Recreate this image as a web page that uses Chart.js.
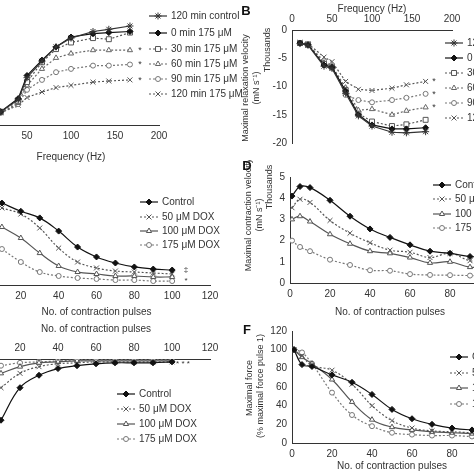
<!DOCTYPE html>
<html><head><meta charset="utf-8">
<script src="https://cdn.jsdelivr.net/npm/chart.js@4"></script>
<style>
html,body{margin:0;padding:0;background:#fff;width:474px;height:474px;overflow:hidden;position:relative}
canvas{position:absolute}
</style></head><body>
<canvas id="cA" style="left:-40px;top:0px;width:290px;height:165px" width="290" height="165"></canvas>
<canvas id="cB" style="left:237px;top:0px;width:300px;height:160px" width="300" height="160"></canvas>
<canvas id="cC" style="left:-40px;top:160px;width:290px;height:160px" width="290" height="160"></canvas>
<canvas id="cD" style="left:237px;top:160px;width:280px;height:160px" width="280" height="160"></canvas>
<canvas id="cE" style="left:-40px;top:320px;width:290px;height:154px" width="290" height="154"></canvas>
<canvas id="cF" style="left:237px;top:320px;width:280px;height:154px" width="280" height="154"></canvas>
<script>
// ---------- data ----------
const freqHz = [10,20,40,50,67,83,100,125,143,167];
const seriesTimeLabels = ['120 min control','0 min 175 \u03bcM','30 min 175 \u03bcM','60 min 175 \u03bcM','90 min 175 \u03bcM','120 min 175 \u03bcM'];
// Panel A: relative force (arbitrary units, axis not visible)
const aCtrl120 = [null,12,23,43,58,71,79,85,87,90];
const a0min    = [null,12,24,45,59,71,80,83,84,85];
const a30min   = [null,12,22,39,57,69,75,79,78,84];
const a60min   = [null,11,20,36,51,61,65,68,68,68];
const a90min   = [null,11,19,32,41,48,51,54,54,55];
const a120min  = [null,11,18,25,30,34,36,39,40,41];
// Panel B: maximal relaxation velocity (thousands mN/s)
const bCtrl120 = [-2.4,-2.7,-6.4,-6.8,-11.2,-15.2,-17.0,-18.1,-18.2,-18.0];
const b0min    = [-2.3,-2.6,-6.2,-6.6,-10.8,-15.0,-16.8,-17.5,-17.5,-17.3];
const b30min   = [-2.3,-2.6,-6.0,-6.6,-10.6,-14.8,-16.2,-17.0,-16.7,-15.9];
const b60min   = [-2.3,-2.6,-5.8,-6.4,-10.2,-14.2,-14.0,-15.0,-14.3,-13.7];
const b90min   = [-2.4,-2.6,-5.5,-6.2,-11.5,-12.4,-12.8,-12.4,-12.0,-11.3];
const b120min  = [-2.2,-2.4,-4.8,-5.6,-9.1,-10.5,-10.7,-10.3,-9.7,-9.1];
const doxLabels = ['Control','50 \u03bcM DOX','100 \u03bcM DOX','175 \u03bcM DOX'];
// Panel C
const pulsesC = [10,20,30,40,50,60,70,80,90,100];
const cCtrl = [74.5,67,61,49,34.5,25.5,20,16.4,14.5,13.6];
const c50   = [70,64.5,51.8,33.6,20.9,15.5,12.7,11.8,10.9,10];
const c100  = [52.7,42.7,29,17.3,11.8,10,8.2,8.2,7.3,7.3];
const c175  = [32.7,20.9,11.8,8.2,6.4,5.5,4.5,4.5,3.6,3.6];
// Panel D: maximal contraction velocity (thousands mN/s)
const pulsesD = [1,5,10,20,30,40,50,60,70,80,90,100];
const dCtrl = [4.1,4.55,4.5,3.9,3.15,2.55,2.15,1.8,1.5,1.4,1.25,1.2];
const d50   = [3.55,3.95,3.8,2.95,2.35,1.9,1.55,1.45,1.2,1.4,1.05,1.0];
const d100  = [3.0,3.15,2.9,2.3,1.85,1.5,1.4,1.2,0.95,1.0,0.75,0.8];
const d175  = [2.0,1.7,1.5,1.1,0.85,0.6,0.58,0.42,0.38,0.37,0.35,0.33];
// Panel E
const pulsesE = [10,20,30,40,50,60,70,80,90,100];
const eCtrl = [-64,-30,-17,-10,-7,-5,-4,-4,-4,-3];
const e50   = [-30,-15,-8,-5,-4,-3,-3,-3,-3,-3];
const e100  = [-15,-8,-4,-3,-2,-2,-2,-2,-2,-2];
const e175  = [-7,-4,-3,-2,-1,-1,-1,-1,-1,-1];
// Panel F: maximal force (% of pulse 1)
const pulsesF = [1,5,10,20,30,40,50,60,70,80,90,100];
const fCtrl = [100,84,82,73,65,52,36,26,20,16,14,13];
const f50   = [100,93,83,78,63,40,24,16,13,12,11,10];
const f100  = [100,92,85,68,44,25,17,14,12,11,10,9];
const f175  = [100,97,85,54,30,18,11,9,8,8,7,7];

// ---------- helpers ----------
const FF = "'Liberation Sans', Arial, sans-serif";
Chart.defaults.font.family = FF;
Chart.defaults.font.size = 10;
Chart.defaults.color = '#333';
Chart.defaults.animation = false;

const styles = {
  solidStar:  {borderColor:'#333', borderDash:[], pointStyle:'star', pointBackgroundColor:'#333', pointRadius:3.5},
  solidDiam:  {borderColor:'#111', borderDash:[], pointStyle:'rectRot', pointBackgroundColor:'#111', pointRadius:3},
  dotSquare:  {borderColor:'#555', borderDash:[2,2], pointStyle:'rect', pointBackgroundColor:'#fff', pointRadius:3.5},
  dotTri:     {borderColor:'#666', borderDash:[2,2], pointStyle:'triangle', pointBackgroundColor:'#fff', pointRadius:3},
  dotCirc:    {borderColor:'#777', borderDash:[2,2], pointStyle:'circle', pointBackgroundColor:'#fff', pointRadius:2.5},
  dotCross:   {borderColor:'#555', borderDash:[2,2], pointStyle:'crossRot', pointBackgroundColor:'#555', pointRadius:3.5},
  solidTri:   {borderColor:'#555', borderDash:[], pointStyle:'triangle', pointBackgroundColor:'#fff', pointRadius:3},
};
function ds(label, xs, ys, st, tension){
  return Object.assign({label, data: xs.map((x,i)=>({x, y: ys[i]})), borderWidth:1.2,
    pointBorderColor: st.borderColor, pointBorderWidth:1, tension: tension||0, spanGaps:true}, st);
}
const extras = {
  id:'extras',
  afterDraw(chart, args, opts){
    const ctx = chart.ctx;
    ctx.save();
    (opts.legend||[]).forEach((pos, i)=>{
      const d = chart.data.datasets[i];
      ctx.strokeStyle = d.borderColor; ctx.lineWidth = 1.2;
      ctx.setLineDash(d.borderDash||[]);
      ctx.beginPath(); ctx.moveTo(pos[0], pos[1]); ctx.lineTo(pos[0]+18, pos[1]); ctx.stroke();
      ctx.setLineDash([]);
      ctx.fillStyle = d.pointBackgroundColor; ctx.strokeStyle = d.borderColor; ctx.lineWidth = 1;
      Chart.helpers.drawPoint(ctx, {pointStyle:d.pointStyle, radius:d.pointRadius, borderWidth:1, rotation:0}, pos[0]+9, pos[1]);
      ctx.fillStyle = '#333'; ctx.font = "10px " + FF;
      ctx.textBaseline = 'middle'; ctx.textAlign = 'left';
      ctx.fillText(d.label, pos[0]+22, pos[1]+0.5);
    });
    (opts.texts||[]).forEach(t=>{
      ctx.save();
      ctx.translate(t.x, t.y); if (t.rot) ctx.rotate(t.rot);
      ctx.fillStyle = t.color||'#333';
      ctx.font = (t.bold?'bold ':'') + (t.size||9) + "px " + FF;
      ctx.textAlign = t.align||'center'; ctx.textBaseline = 'middle';
      ctx.fillText(t.text, 0, 0);
      ctx.restore();
    });
    ctx.restore();
  }
};
function axisX(min, max, step, pos, h, title){
  return {type:'linear', position:pos, min, max,
    ticks:{stepSize:step, color:'#333', padding:2, font:{size:10}},
    grid:{display:false, drawOnChartArea:false, drawTicks:true, tickLength:3, color:'#333'},
    border:{display:true, color:'#333', width:1},
    title:{display:!!title, text:title, color:'#333', font:{size:10}, padding:{top:3,bottom:2}},
    afterFit(s){ s.height = h; }};
}
function axisY(min, max, step, w, show){
  return {type:'linear', min, max, display: show,
    ticks:{stepSize:step, color:'#333', padding:2, font:{size:10}},
    grid:{display:false, drawOnChartArea:false, drawTicks:true, tickLength:3, color:'#333'},
    border:{display:true, color:'#333', width:1},
    afterFit(s){ s.width = w; }};
}
function make(id, datasets, scales, padding, extraOpts){
  new Chart(document.getElementById(id), {
    type:'line', data:{datasets},
    options:{responsive:false, animation:false, layout:{padding},
      plugins:{legend:{display:false}, tooltip:{enabled:false}, extras:extraOpts},
      scales},
    plugins:[extras]
  });
}
const TL = seriesTimeLabels, DL = doxLabels;
// Panel A
make('cA', [
  ds(TL[0], freqHz, aCtrl120, styles.solidStar),
  ds(TL[1], freqHz, a0min, styles.solidDiam),
  ds(TL[2], freqHz, a30min, styles.dotSquare),
  ds(TL[3], freqHz, a60min, styles.dotTri),
  ds(TL[4], freqHz, a90min, styles.dotCirc),
  ds(TL[5], freqHz, a120min, styles.dotCross),
], {x: axisX(0,200,50,'bottom',40,'Frequency (Hz)'), y: axisY(0,100,20,0,false)},
 {left:23, right:91, top:15, bottom:0},
 {legend:[[189,16],[189,33],[189,49],[189,64],[189,79],[189,94]],
  texts:[{text:'*',x:180,y:51},{text:'*',x:180,y:65},{text:'*',x:180,y:81}]});
// Panel B
make('cB', [
  ds(TL[0], freqHz, bCtrl120, styles.solidStar),
  ds(TL[1], freqHz, b0min, styles.solidDiam),
  ds(TL[2], freqHz, b30min, styles.dotSquare),
  ds(TL[3], freqHz, b60min, styles.dotTri),
  ds(TL[4], freqHz, b90min, styles.dotCirc),
  ds(TL[5], freqHz, b120min, styles.dotCross),
], {x: axisX(0,200,50,'top',30,'Frequency (Hz)'), y: axisY(-20,0,5,55,true)},
 {left:0, right:85, top:0, bottom:17},
 {legend:[[208,43],[208,58],[208,73],[208,88],[208,103],[208,118]],
  texts:[{text:'B',x:9,y:11,bold:true,size:13,color:'#111'},
   {text:'Maximal relaxation velocity',x:9,y:88,rot:-Math.PI/2},
   {text:'(mN s\u207b\u00b9)',x:20,y:88,rot:-Math.PI/2},
   {text:'Thousands',x:31,y:50,rot:-Math.PI/2},
   {text:'*',x:197,y:82},{text:'*',x:197,y:95},{text:'*',x:197,y:108}]});
// Panel C
make('cC', [
  ds(DL[0], pulsesC, cCtrl, styles.solidDiam, 0.4),
  ds(DL[1], pulsesC, c50, styles.dotCross, 0.4),
  ds(DL[2], pulsesC, c100, styles.solidTri, 0.4),
  ds(DL[3], pulsesC, c175, styles.dotCirc, 0.4),
], {x: axisX(0,120,20,'bottom',35,'No. of contraction pulses'), y: axisY(0,100,20,0,false)},
 {left:23, right:40, top:15, bottom:0},
 {legend:[[180,42],[180,57],[180,71],[180,85]],
  texts:[{text:'\u2021',x:226,y:110,size:8},{text:'*',x:226,y:121,size:8}]});
// Panel D
make('cD', [
  ds(DL[0], pulsesD, dCtrl, styles.solidDiam, 0.4),
  ds(DL[1], pulsesD, d50, styles.dotCross, 0.4),
  ds(DL[2], pulsesD, d100, styles.solidTri, 0.4),
  ds(DL[3], pulsesD, d175, styles.dotCirc, 0.4),
], {x: axisX(0,100,20,'bottom',37,'No. of contraction pulses'), y: axisY(0,5,1,53,true)},
 {left:0, right:27, top:17, bottom:0},
 {legend:[[196,25],[196,39],[196,54],[196,68]],
  texts:[{text:'D',x:10,y:6,bold:true,size:13,color:'#111'},
   {text:'Maximal contraction velocity',x:12,y:55,rot:-Math.PI/2},
   {text:'(mN s\u207b\u00b9)',x:23,y:55,rot:-Math.PI/2},
   {text:'Thousands',x:33,y:27,rot:-Math.PI/2}]});
// Panel E
make('cE', [
  ds(DL[0], pulsesE, eCtrl, styles.solidDiam, 0.4),
  ds(DL[1], pulsesE, e50, styles.dotCross, 0.4),
  ds(DL[2], pulsesE, e100, styles.solidTri, 0.4),
  ds(DL[3], pulsesE, e175, styles.dotCirc, 0.4),
], {x: axisX(0,120,20,'top',39,'No. of contraction pulses'), y: axisY(-115,0,20,0,false)},
 {left:22, right:40, top:0, bottom:0},
 {legend:[[157,74],[157,89],[157,104],[157,119]],
  texts:[{text:'* * *',x:223,y:44,size:8}]});
// Panel F
make('cF', [
  ds(DL[0], pulsesF, fCtrl, styles.solidDiam, 0.4),
  ds(DL[1], pulsesF, f50, styles.dotCross, 0.4),
  ds(DL[2], pulsesF, f100, styles.solidTri, 0.4),
  ds(DL[3], pulsesF, f175, styles.dotCirc, 0.4),
], {x: axisX(0,100,20,'bottom',31,'No. of contraction pulses'), y: axisY(0,120,20,55,true)},
 {left:0, right:25, top:11, bottom:0},
 {legend:[[213,37],[213,53],[213,68],[213,84]],
  texts:[{text:'F',x:10,y:10,bold:true,size:13,color:'#111'},
   {text:'Maximal force',x:13,y:68,rot:-Math.PI/2},
   {text:'(% maximal force pulse 1)',x:24,y:66,rot:-Math.PI/2}]});
</script>
</body></html>
